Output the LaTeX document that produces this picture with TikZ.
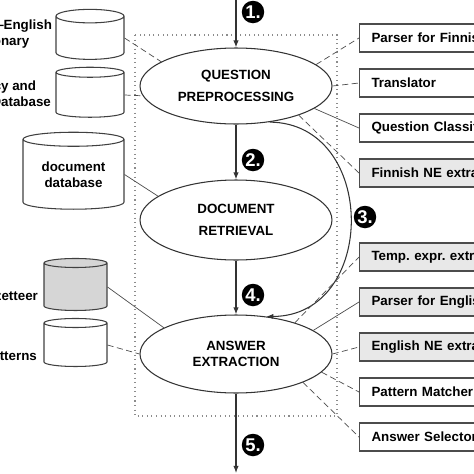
\documentclass[tikz,border=0pt]{standalone}
\usepackage{fontspec}
\setmainfont{Liberation Sans}
\usetikzlibrary{positioning, shapes.geometric, arrows.meta}
\frenchspacing

\tikzset{
  proc/.style={ellipse, draw=black!80, line width=0.6pt, minimum width=3.84cm, minimum height=1.52cm, inner sep=0pt, align=center, font=\bfseries\fontsize{7.6}{12.5}\selectfont},
  tool/.style={rectangle, draw=black!70, line width=0.6pt, anchor=west, minimum height=0.56cm, text width=3.3cm, inner xsep=0.24cm, align=left, font=\bfseries\fontsize{7.6}{9}\selectfont},
  graytool/.style={tool, fill=black!9},
  dbase/.style={cylinder, shape border rotate=90, draw=black!75, line width=0.6pt, aspect=0.22, inner sep=0pt, align=center, font=\bfseries\fontsize{7.6}{9.2}\selectfont},
  dblabel/.style={anchor=east, align=center, inner sep=1pt, font=\bfseries\fontsize{7.6}{9.5}\selectfont},
  numdot/.style={circle, fill=black, text=white, inner sep=0pt, minimum size=0.45cm, font=\bfseries\fontsize{10.5}{10.5}\selectfont},
  flow/.style={draw=black!80, line width=0.6pt, -{Latex[length=4pt,width=3pt]}},
  uses/.style={draw=black!70, line width=0.4pt, dash pattern=on 3.5pt off 2pt},
  usesolid/.style={draw=black!70, line width=0.4pt}
}
\newcommand{\dbfill}[1]{\phantom{\rule{#1}{0.45cm}}}

\begin{document}
\begin{tikzpicture}[x=0.02cm, y=-0.02cm]
  \path[use as bounding box, clip] (0,0) rectangle (474,474);

  % frame round the three stages
  \draw[black!45, dotted, line width=0.6pt] (135,35) rectangle (337,416);

  % stages
  \node[proc] (qp) at (236,86) {QUESTION\\PREPROCESSING};
  \node[proc, minimum height=1.6cm] (dr) at (236,220) {DOCUMENT\\RETRIEVAL};
  \node[proc, minimum height=1.56cm, font=\bfseries\fontsize{7.6}{9.1}\selectfont] (ae) at (236,354) {ANSWER\\EXTRACTION};
  \coordinate (qin) at (236,0);
  \coordinate (aout) at (236,473);

  % resources on the left
  \node[dbase, minimum width=1.36cm, minimum height=1.0cm, aspect=0.27] (dict) at (90,38) {\dbfill{1.0cm}};
  \node[dblabel] at (54,34) {Finnish—English\\dictionary};
  \node[dbase, minimum width=1.36cm, minimum height=1.0cm, aspect=0.2] (stopdb) at (90,95) {\dbfill{1.0cm}};
  \node[dblabel] at (53,95) {Frequency and\\Stopword Database};
  \node[dbase, minimum width=2.02cm, minimum height=1.54cm] (docdb) at (73.5,174.5) {document\\database};
  \node[dbase, fill=black!16, minimum width=1.26cm, minimum height=1.04cm, aspect=0.2] (gaz) at (75.5,287) {\dbfill{0.9cm}};
  \node[dblabel] at (40,296) {Gazetteer};
  \node[dbase, minimum width=1.26cm, minimum height=0.96cm, aspect=0.2] (pat) at (75.5,345) {\dbfill{0.9cm}};
  \node[dblabel] at (39,356) {Patterns};

  % tools on the right
  \node[tool] (pfi) at (359,38) {Parser for Finnish};
  \node[tool] (trans) at (359,83) {Translator};
  \node[tool] (qcl) at (359,128) {Question Classifier};
  \node[graytool] (fne) at (359,173) {Finnish NE extractor};
  \node[graytool] (temp) at (359,257) {Temp. expr. extractor};
  \node[graytool] (pen) at (359,302) {Parser for English};
  \node[graytool] (ene) at (359,347) {English NE extractor};
  \node[tool] (pmat) at (359,392) {Pattern Matcher};
  \node[tool] (asel) at (359,437) {Answer Selector};

  % main flow
  \draw[flow] (qin) -- (qp);
  \draw[flow] (qp) -- (dr);
  \draw[flow] (dr) -- (ae);
  \draw[flow] (ae) -- (aout);
  \draw[flow] (qp.-47) .. controls (378,123) and (378,316) .. (ae.51);

  \node[numdot] (n1) at (253,12) {1.};
  \node[numdot] (n2) at (253,160) {2.};
  \node[numdot] (n3) at (365,217) {3.};
  \node[numdot] (n4) at (253,295) {4.};
  \node[numdot] (n5) at (253,445) {5.};

  % left links
  \draw[uses] (dict.east) -- (qp.162);
  \draw[uses] (stopdb.east) -- (qp.186);
  \draw[usesolid] (docdb.east) -- (dr.163);
  \draw[usesolid] (gaz.east) -- (ae.160);
  \draw[uses] (pat.east) -- (ae.west);

  % right links
  \draw[uses] (qp.15) -- (pfi.west);
  \draw[uses] (qp.east) -- (trans.west);
  \draw[usesolid] (qp.-16) -- (qcl.west);
  \draw[uses] (qp.-25) -- (fne.west);
  \draw[uses] (ae.28) -- (temp.west);
  \draw[usesolid] (ae.17) -- (pen.west);
  \draw[uses] (ae.east) -- (ene.west);
  \draw[uses] (ae.-12) -- (pmat.west);
  \draw[uses] (ae.-23) -- (asel.west);
\end{tikzpicture}
\end{document}
